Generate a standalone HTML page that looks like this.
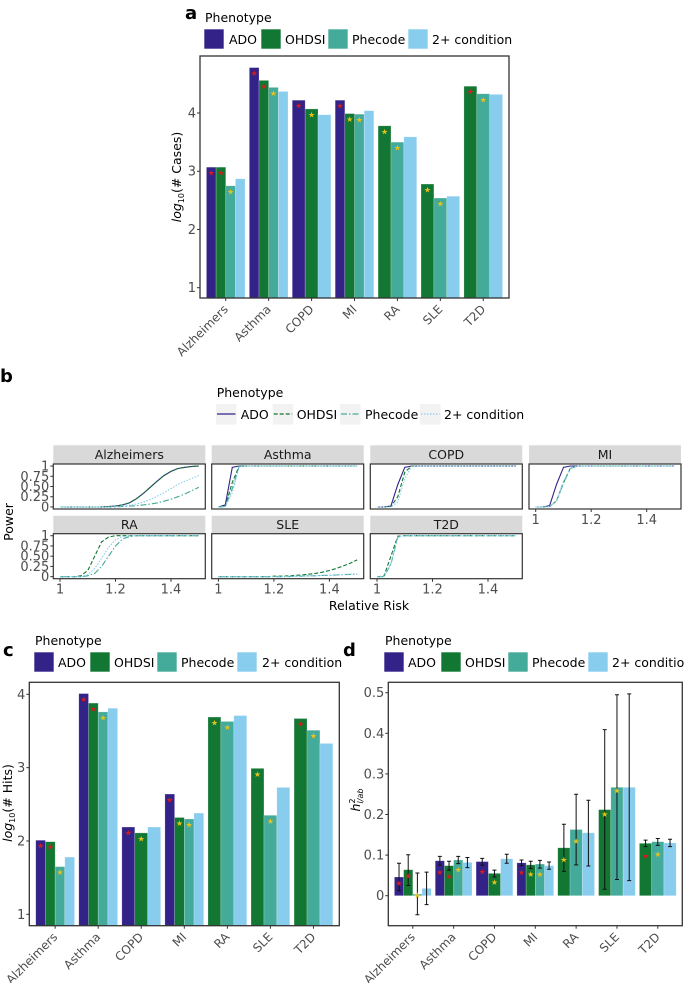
<!DOCTYPE html>
<html><head><meta charset="utf-8">
<style>
html,body{margin:0;padding:0;background:#fff;}
svg{display:block;font-family:"DejaVu Sans","Liberation Sans",sans-serif;}
</style></head>
<body>
<svg id="fig" width="685" height="983" viewBox="0 0 685 983" xmlns="http://www.w3.org/2000/svg"></svg>
<script>
// ---------- shared ----------
const categories = ["Alzheimers","Asthma","COPD","MI","RA","SLE","T2D"];
const seriesNames = ["ADO","OHDSI","Phecode","2+ condition"];
// ---------- panel a: log10(# cases) ----------
const casesADO = [3.07,4.78,4.22,4.22,null,null,null];
const casesOHDSI = [3.07,4.56,4.07,3.99,3.78,2.78,4.46];
const casesPhecode = [2.75,4.44,null,3.98,3.50,2.54,4.33];
const cases2plus = [2.87,4.37,3.97,4.04,3.59,2.57,4.32];
const casesStarADO = ["r","r","r","r","","",""];
const casesStarOHDSI = ["r","r","y","y","y","y","r"];
const casesStarPhecode = ["y","y","","y","y","y","y"];
const casesStar2plus = ["","","","","","",""];
const casesTicks = [1,2,3,4];
// ---------- panel c: log10(# hits) ----------
const hitsADO = [2.01,4.01,2.19,2.64,null,null,null];
const hitsOHDSI = [1.99,3.88,2.11,2.32,3.69,2.99,3.67];
const hitsPhecode = [1.65,3.76,null,2.30,3.63,2.35,3.51];
const hits2plus = [1.78,3.81,2.19,2.38,3.71,2.73,3.33];
const hitsStarADO = ["r","r","r","r","","",""];
const hitsStarOHDSI = ["r","r","y","y","y","y","r"];
const hitsStarPhecode = ["y","y","","y","y","y","y"];
const hitsStar2plus = ["","","","","","",""];
const hitsTicks = [1,2,3,4];
// ---------- panel d: heritability ----------
const h2ADO = [0.046,0.086,0.084,0.081,null,null,null];
const h2ADOlo = [0.012,0.075,0.075,0.074,null,null,null];
const h2ADOhi = [0.080,0.097,0.092,0.088,null,null,null];
const h2OHDSI = [0.064,0.074,0.055,0.076,0.118,0.212,0.129];
const h2OHDSIlo = [0.025,0.063,0.046,0.067,0.060,0.016,0.121];
const h2OHDSIhi = [0.101,0.085,0.063,0.085,0.176,0.409,0.137];
const h2Phecode = [0.004,0.088,null,0.078,0.163,0.267,0.133];
const h2Phecodelo = [-0.047,0.079,null,0.068,0.076,0.040,0.124];
const h2Phecodehi = [0.056,0.097,null,0.087,0.250,0.495,0.141];
const h22plus = [0.018,0.082,0.091,0.074,0.155,0.267,0.130];
const h22pluslo = [-0.022,0.069,0.080,0.065,0.073,0.037,0.121];
const h22plushi = [0.058,0.094,0.102,0.083,0.235,0.497,0.139];
const h2StarValADO = [0.030,0.057,0.058,0.057,null,null,null];
const h2StarColADO = ["r","r","r","r","","",""];
const h2StarValOHDSI = [0.047,0.047,0.033,0.052,0.088,0.200,0.098];
const h2StarColOHDSI = ["r","r","y","y","y","y","r"];
const h2StarValPhecode = [0.001,0.063,null,0.052,0.134,0.258,0.101];
const h2StarColPhecode = ["y","y","","y","y","y","y"];
const h2Ticks = [0,0.1,0.2,0.3,0.4,0.5];
const h2TickLabels = ["0","0.1","0.2","0.3","0.4","0.5"];
// ---------- panel b: power curves ----------
const rrGrid = [1,1.025,1.05,1.075,1.1,1.125,1.15,1.175,1.2,1.225,1.25,1.275,1.3,1.325,1.35,1.375,1.4,1.425,1.45,1.475,1.5];
const facetNames = ["Alzheimers","Asthma","COPD","MI","RA","SLE","T2D"];
const powAlzADO = [0,0,0,0,0,0,0,0.01,0.02,0.05,0.1,0.2,0.33,0.48,0.63,0.77,0.87,0.94,0.97,0.99,1];
const powAlzOHDSI = [0,0,0,0,0,0,0,0.01,0.02,0.05,0.1,0.2,0.33,0.48,0.63,0.77,0.87,0.94,0.97,0.99,1];
const powAlzPhecode = [0,0,0,0,0,0,0,0,0,0.01,0.02,0.03,0.05,0.07,0.1,0.14,0.19,0.25,0.32,0.4,0.48];
const powAlz2plus = [0,0,0,0,0,0,0,0,0.01,0.02,0.04,0.07,0.12,0.18,0.26,0.35,0.45,0.55,0.63,0.7,0.77];
const powAsthmaADO = [0,0.05,0.97,1,1,1,1,1,1,1,1,1,1,1,1,1,1,1,1,1,1];
const powAsthmaOHDSI = [0,0.02,0.6,1,1,1,1,1,1,1,1,1,1,1,1,1,1,1,1,1,1];
const powAsthmaPhecode = [0,0.01,0.45,0.99,1,1,1,1,1,1,1,1,1,1,1,1,1,1,1,1,1];
const powAsthma2plus = [0,0.01,0.35,0.98,1,1,1,1,1,1,1,1,1,1,1,1,1,1,1,1,1];
const powCOPDADO = [0,0,0.02,0.55,0.97,1,1,1,1,1,1,1,1,1,1,1,1,1,1,1,1];
const powCOPDOHDSI = [0,0,0.01,0.25,0.85,1,1,1,1,1,1,1,1,1,1,1,1,1,1,1,1];
const powCOPDPhecode = null;
const powCOPD2plus = [0,0,0,0.12,0.7,0.99,1,1,1,1,1,1,1,1,1,1,1,1,1,1,1];
const powMIADO = [0,0,0.03,0.55,0.97,1,1,1,1,1,1,1,1,1,1,1,1,1,1,1,1];
const powMIOHDSI = [0,0,0.01,0.15,0.6,0.95,1,1,1,1,1,1,1,1,1,1,1,1,1,1,1];
const powMIPhecode = [0,0,0.01,0.14,0.58,0.94,1,1,1,1,1,1,1,1,1,1,1,1,1,1,1];
const powMI2plus = [0,0,0.01,0.15,0.62,0.95,1,1,1,1,1,1,1,1,1,1,1,1,1,1,1];
const powRAADO = null;
const powRAOHDSI = [0,0,0,0.02,0.15,0.5,0.85,0.97,1,1,1,1,1,1,1,1,1,1,1,1,1];
const powRAPhecode = [0,0,0,0,0.02,0.08,0.25,0.5,0.75,0.92,0.98,1,1,1,1,1,1,1,1,1,1];
const powRA2plus = [0,0,0,0,0.05,0.2,0.45,0.72,0.9,0.98,1,1,1,1,1,1,1,1,1,1,1];
const powSLEADO = null;
const powSLEOHDSI = [0,0,0,0,0,0,0,0,0.01,0.01,0.02,0.03,0.04,0.06,0.08,0.11,0.15,0.2,0.26,0.33,0.41];
const powSLEPhecode = [0,0,0,0,0,0,0,0,0,0,0,0.01,0.01,0.02,0.02,0.03,0.03,0.04,0.05,0.055,0.06];
const powSLE2plus = [0,0,0,0,0,0,0,0,0,0,0.01,0.01,0.015,0.02,0.025,0.03,0.035,0.045,0.05,0.06,0.07];
const powT2DADO = null;
const powT2DOHDSI = [0,0.01,0.5,0.99,1,1,1,1,1,1,1,1,1,1,1,1,1,1,1,1,1];
const powT2DPhecode = [0,0,0.3,0.97,1,1,1,1,1,1,1,1,1,1,1,1,1,1,1,1,1];
const powT2D2plus = [0,0,0.32,0.97,1,1,1,1,1,1,1,1,1,1,1,1,1,1,1,1,1];
const rrTicks = [1,1.2,1.4];
const rrTickLabels = ["1","1.2","1.4"];
const powTicks = [0,0.25,0.5,0.75,1];
const powTickLabels = ["0","0.25","0.50","0.75","1"];

const NS = "http://www.w3.org/2000/svg";
const svg = document.getElementById("fig");
const COLORS = ["#332288","#117733","#44AA99","#88CCEE"];
const STAR = {r:"#D81B1B", y:"#E8C21A"};
const AX = "#4D4D4D";
function mk(tag, attrs, parent, text){
  const e = document.createElementNS(NS, tag);
  for (const k in attrs) e.setAttribute(k, attrs[k]);
  if (text !== undefined) e.textContent = text;
  (parent||svg).appendChild(e);
  return e;
}
function grp(name, parent){
  const g = mk("g", {}, parent);
  
  
  return g;
}
function label(txt, x, y, size, weight, parent, name){
  const t = mk("text", {x:x, y:y, "font-size":size, "font-weight":weight||"normal", fill:"#000"}, parent, txt);
  
  
  return t;
}
function fillLegend(parent, x0, y0, xs, txs){
  const lg = grp("legend", parent);
  label("Phenotype", x0, y0, 12.5, "normal", lg, "legend-title");
  for (let i=0;i<4;i++){
    const e = grp("legend-entry", lg);
    
    const r = mk("rect", {x:xs[i], y:y0+7, width:20, height:20, fill:COLORS[i], stroke:"#fff", "stroke-width":0.6}, e);
    
    
    label(seriesNames[i], txs[i], y0+22, 12.5, "normal", e, "legend-label");
  }
}
function bandX(left, right, n){
  const unit = (right-left)/(n-1+1.2);
  return {c: i => left + (0.6+i)*unit, bw: 0.9*unit};
}
function yAxisTicks(parent, xAxis, ticks, labels, yf, size){
  const g = grp("y-axis", parent);
  ticks.forEach((v,i)=>{
    const y = yf(v);
    const l = mk("line", {x1:xAxis-3, x2:xAxis, y1:y, y2:y, stroke:"#333", "stroke-width":1}, g);
    
    
    const t = mk("text", {x:xAxis-4, y:y+4.5, "font-size":size, fill:AX, "text-anchor":"end"}, g, labels[i]);
    
    
  });
}
function xCatAxis(parent, sc, bottom){
  const g = grp("x-axis", parent);
  categories.forEach((c,i)=>{
    const x = sc.c(i);
    const l = mk("line", {x1:x, x2:x, y1:bottom, y2:bottom+3, stroke:"#333", "stroke-width":1}, g);
    
    
    const t = mk("text", {x:x+3, y:bottom+12, "font-size":12, fill:AX, "text-anchor":"end", transform:`rotate(-45 ${x+3} ${bottom+12})`}, g, c);
    
    
  });
}
function star(parent, x, y, col){
  const s = mk("text", {x:x, y:y+2.5, "font-size":8, fill:STAR[col], "text-anchor":"middle"}, parent, "★");
  
  
}
function barPanel(parent, box, series, starFlags, yf, sc){
  const g = grp("bars", parent);
  categories.forEach((c,i)=>{
    const present = [];
    for (let s=0;s<4;s++) if (series[s][i]!==null) present.push(s);
    const w = sc.bw/present.length;
    present.forEach((s,k)=>{
      const x = sc.c(i)-sc.bw/2+k*w;
      const y = yf(series[s][i]);
      const r = mk("rect", {x:x, y:y, width:w, height:box.b-y, fill:COLORS[s], stroke:"#ffffff", "stroke-opacity":0.35, "stroke-width":0.6}, g);
      
      
      const f = starFlags[s][i];
      if (f) star(g, x+w/2, y+6, f);
    });
  });
}
function frame(parent, box){
  const r = mk("rect", {x:box.l, y:box.t, width:box.r-box.l, height:box.b-box.t, fill:"none", stroke:"#333", "stroke-width":1.3}, parent);
  
  
}

// ================= PANEL A =================
{
  const P = grp("panel-a");
  label("a", 185, 19, 18, "bold", P, "panel-label-a");
  fillLegend(P, 205, 22, [204,261,328,408], [229,285,352,432]);
  const box = {l:200, r:509, t:56, b:298};
  const yf = v => 287.7 - (v-1)*58.23;
  const sc = bandX(box.l, box.r, categories.length);
  barPanel(P, box, [casesADO,casesOHDSI,casesPhecode,cases2plus], [casesStarADO,casesStarOHDSI,casesStarPhecode,casesStar2plus], yf, sc);
  frame(P, box);
  yAxisTicks(P, box.l, casesTicks, casesTicks.map(String), yf, 13);
  xCatAxis(P, sc, box.b);
  const t = mk("text", {x:0, y:0, "font-size":12.5, fill:"#000", "text-anchor":"middle", transform:"translate(181 177) rotate(-90)"}, P);
  
  
  t.innerHTML = '<tspan font-style="italic">log</tspan><tspan font-size="8" dy="3">10</tspan><tspan dy="-3">(# Cases)</tspan>';
}
// ================= PANEL C =================
{
  const P = grp("panel-c");
  label("c", 3, 656, 18, "bold", P, "panel-label-c");
  fillLegend(P, 35, 645, [34,90,157,237], [58,114,181,262]);
  const box = {l:29.3, r:339.3, t:682.3, b:925.7};
  const yf = v => 914.3 - (v-1)*73.33;
  const sc = bandX(box.l, box.r, categories.length);
  barPanel(P, box, [hitsADO,hitsOHDSI,hitsPhecode,hits2plus], [hitsStarADO,hitsStarOHDSI,hitsStarPhecode,hitsStar2plus], yf, sc);
  frame(P, box);
  yAxisTicks(P, box.l, hitsTicks, hitsTicks.map(String), yf, 13);
  xCatAxis(P, sc, box.b);
  const t = mk("text", {x:0, y:0, "font-size":12.5, fill:"#000", "text-anchor":"middle", transform:"translate(12 803) rotate(-90)"}, P);
  
  
  t.innerHTML = '<tspan font-style="italic">log</tspan><tspan font-size="8" dy="3">10</tspan><tspan dy="-3">(# Hits)</tspan>';
}
// ================= PANEL D =================
{
  const P = grp("panel-d");
  label("d", 343, 656, 18, "bold", P, "panel-label-d");
  fillLegend(P, 385, 645, [384,441,508,588], [408,465,532,612]);
  const box = {l:388.3, r:682.3, t:682.3, b:925.7};
  const yf = v => 895.7 - v*406;
  const sc = bandX(box.l, box.r, categories.length);
  const vals = [h2ADO,h2OHDSI,h2Phecode,h22plus];
  const los = [h2ADOlo,h2OHDSIlo,h2Phecodelo,h22pluslo];
  const his = [h2ADOhi,h2OHDSIhi,h2Phecodehi,h22plushi];
  const sv = [h2StarValADO,h2StarValOHDSI,h2StarValPhecode,null];
  const scol = [h2StarColADO,h2StarColOHDSI,h2StarColPhecode,null];
  const g = grp("bars", P);
  const eg = grp("error-bars", P);
  const sg = grp("stars", P);
  categories.forEach((c,i)=>{
    const present = [];
    for (let s=0;s<4;s++) if (vals[s][i]!==null) present.push(s);
    const w = sc.bw/present.length;
    present.forEach((s,k)=>{
      const x = sc.c(i)-sc.bw/2+k*w;
      const y0 = yf(0), y1 = yf(vals[s][i]);
      const r = mk("rect", {x:x, y:Math.min(y0,y1), width:w, height:Math.abs(y0-y1), fill:COLORS[s], stroke:"#fff", "stroke-opacity":0.35, "stroke-width":0.6}, g);
      
      
      const cx = x+w/2, ylo = yf(los[s][i]), yhi = yf(his[s][i]);
      const e1 = mk("path", {d:`M${cx} ${ylo}V${yhi}M${cx-2} ${ylo}H${cx+2}M${cx-2} ${yhi}H${cx+2}`, stroke:"#111", "stroke-width":1, fill:"none"}, eg);
      
      
      if (sv[s] && sv[s][i]!==null && scol[s][i]) star(sg, cx, yf(sv[s][i]), scol[s][i]);
    });
  });
  frame(P, box);
  yAxisTicks(P, box.l, h2Ticks, h2TickLabels, yf, 13);
  xCatAxis(P, sc, box.b);
  const t = mk("text", {x:0, y:0, "font-size":12.5, fill:"#000", "text-anchor":"middle", transform:"translate(360 800) rotate(-90)"}, P);
  
  
  t.innerHTML = '<tspan font-style="italic">h</tspan><tspan font-size="8" dy="-5">2</tspan><tspan font-size="8" font-style="italic" dx="-5" dy="8">l/ab</tspan>';
}
// ================= PANEL B =================
{
  const P = grp("panel-b");
  label("b", 0, 382, 18, "bold", P, "panel-label-b");
  const lg = grp("legend", P);
  label("Phenotype", 216.7, 397, 12.5, "normal", lg, "legend-title");
  const dashes = ["none","4,2","6,2,1.5,2","1.5,1.5"];
  const keyX = [216,272.7,340,420], txtX = [240.7,296.7,365,444];
  for (let i=0;i<4;i++){
    const e = grp("legend-entry", lg);
    
    const bg = mk("rect", {x:keyX[i], y:404, width:20.5, height:20.5, fill:"#F2F2F2"}, e);
    
    
    const l = mk("line", {x1:keyX[i]+1, x2:keyX[i]+19.5, y1:414, y2:414, stroke:COLORS[i], "stroke-width":1.2, "stroke-dasharray":dashes[i]}, e);
    
    
    label(seriesNames[i], txtX[i], 419, 12.5, "normal", e, "legend-label");
  }
  const facetData = [
    [powAlzADO,powAlzOHDSI,powAlzPhecode,powAlz2plus],
    [powAsthmaADO,powAsthmaOHDSI,powAsthmaPhecode,powAsthma2plus],
    [powCOPDADO,powCOPDOHDSI,powCOPDPhecode,powCOPD2plus],
    [powMIADO,powMIOHDSI,powMIPhecode,powMI2plus],
    [powRAADO,powRAOHDSI,powRAPhecode,powRA2plus],
    [powSLEADO,powSLEOHDSI,powSLEPhecode,powSLE2plus],
    [powT2DADO,powT2DOHDSI,powT2DPhecode,powT2D2plus]
  ];
  const colL = [53.3,211.7,370.3,529], W = 152;
  const rows = [{st:445.3, t:464, b:509}, {st:515.7, t:533.7, b:578.7}];
  facetNames.forEach((name,f)=>{
    const ci = f%4, ri = Math.floor(f/4);
    const L = colL[ci], row = rows[ri];
    const fg = grp("facet-"+name.toLowerCase(), P);
    const st = mk("rect", {x:L, y:row.st, width:W, height:row.t-row.st, fill:"#D9D9D9"}, fg);
    
    
    const stt = mk("text", {x:L+W/2, y:row.st+13.5, "font-size":12.5, fill:"#1A1A1A", "text-anchor":"middle"}, fg, name);
    
    
    const xf = v => L + 6.7 + (v-1)*277.5;
    const h = row.b-row.t, unitY = h/1.1;
    const yf = v => row.b - 0.05*unitY - v*unitY;
    facetData[f].forEach((arr,s)=>{
      if (!arr) return;
      const pts = rrGrid.map((r,k)=>xf(r).toFixed(1)+","+yf(arr[k]).toFixed(1)).join(" ");
      const pl = mk("polyline", {points:pts, fill:"none", stroke:COLORS[s], "stroke-width":1.1, "stroke-dasharray":dashes[s]}, fg);
      
      
    });
    const fr = mk("rect", {x:L, y:row.t, width:W, height:h, fill:"none", stroke:"#333", "stroke-width":1.2}, fg);
    
    
    if (ci===0) yAxisTicks(fg, L, powTicks, powTickLabels, yf, 13);
    const showX = ri===1 || ci===3;
    if (showX){
      const xb = ri===1 ? row.b : rows[0].b;
      const xg = grp("x-axis", fg);
      rrTicks.forEach((v,k)=>{
        const x = xf(v);
        const l = mk("line", {x1:x, x2:x, y1:xb, y2:xb+3, stroke:"#333"}, xg);
        
        
        const t = mk("text", {x:x, y:xb+15, "font-size":13, fill:AX, "text-anchor":"middle"}, xg, rrTickLabels[k]);
        
        
      });
    }
  });
  const yt = mk("text", {x:0, y:0, "font-size":12.5, fill:"#000", "text-anchor":"middle", transform:"translate(13 522) rotate(-90)"}, P, "Power");
  
  
  const xt = mk("text", {x:369, y:610, "font-size":12.5, fill:"#000", "text-anchor":"middle"}, P, "Relative Risk");
  
  
}
</script>
</body></html>
